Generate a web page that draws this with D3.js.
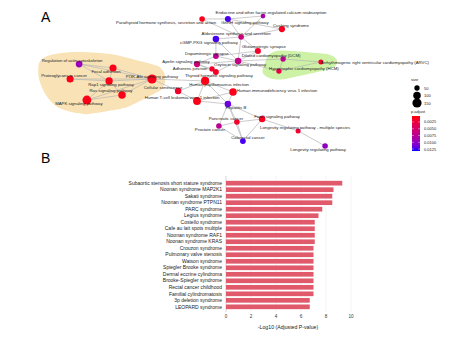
<!DOCTYPE html>
<html>
<head>
<meta charset="utf-8">
<script src="https://cdn.jsdelivr.net/npm/d3@7"></script>
<style>
  body { margin: 0; background: #fff; }
  svg { font-family: "Liberation Sans", Arial, sans-serif; }
</style>
</head>
<body>
<svg id="fig" width="474" height="342"></svg>
<script>
// ---- panel A: enrichment map ----
var nodeNames = [
  "Regulation of actin cytoskeleton", "Focal adhesion", "Proteoglycans in cancer",
  "Rap1 signaling pathway", "Ras signaling pathway", "MAPK signaling pathway",
  "PI3K-Akt signaling pathway", "Cellular senescence", "Human T-cell leukemia virus 1 infection",
  "Human papillomavirus infection", "Thyroid hormone signaling pathway", "Adherens junction",
  "Apelin signaling pathway", "Dopaminergic synapse", "Oxytocin signaling pathway",
  "cGMP-PKG signaling pathway", "Aldosterone synthesis and secretion",
  "Endocrine and other factor-regulated calcium reabsorption",
  "Parathyroid hormone synthesis, secretion and action", "GnRH signaling pathway",
  "Cushing syndrome", "Glutamatergic synapse", "Dilated cardiomyopathy (DCM)",
  "Hypertrophic cardiomyopathy (HCM)", "Arrhythmogenic right ventricular cardiomyopathy (ARVC)",
  "Human immunodeficiency virus 1 infection", "Hepatitis B", "FoxO signaling pathway",
  "Pancreatic cancer", "Prostate cancer", "Colorectal cancer",
  "Longevity regulating pathway - multiple species", "Longevity regulating pathway"
];
// layout coordinates (0-100)
var nodeX = [14.7, 26, 11.7, 24.7, 29, 17.3, 39, 47.7, 54, 56.7, 60.3, 59, 54, 60.3, 67.7,
             60.3, 68.7, 76, 55.7, 64.3, 82.3, 74.3, 82.7, 81.3, 95.3, 66, 64.3, 75.7,
             67.3, 61.3, 69.3, 87.7, 96.7];
var nodeY = [38.6, 41.4, 49.3, 50.7, 60.7, 64.3, 49.3, 57.9, 65, 50.7, 44.3, 42.1, 38.6, 32.9,
             36.4, 20.7, 19.3, 4.3, 6.4, 6.4, 13.6, 29.3, 35, 43.6, 37.1, 58.6, 67.1, 77.9,
             80, 82.9, 93.6, 86.4, 97.1];
var nodeCount = [80, 90, 90, 95, 100, 140, 150, 75, 110, 120, 60, 50, 70, 60, 75, 75, 55, 40,
                 55, 65, 70, 65, 50, 50, 45, 100, 75, 75, 55, 55, 60, 45, 55];
var nodePadj = [0.0095, 0.0008, 0.0008, 0.0008, 0.0008, 0.0008, 0.0008, 0.0015, 0.0008, 0.0008,
                0.0015, 0.0015, 0.0055, 0.0072, 0.0065, 0.0125, 0.0060, 0.0085, 0.0010, 0.0125,
                0.0010, 0.0015, 0.0072, 0.0030, 0.0015, 0.0010, 0.0115, 0.0010, 0.0015, 0.0072,
                0.0125, 0.0020, 0.0100];
var edges = [[0,1],[0,3],[0,6],[1,3],[1,6],[2,3],[2,6],[3,4],[3,5],[3,6],[4,5],[4,6],[5,6],
             [6,9],[6,7],[7,9],[7,8],[8,9],[8,26],[8,25],[9,25],[9,10],[9,26],[10,11],[10,12],
             [10,14],[11,12],[12,14],[12,13],[13,14],[13,15],[13,21],[14,15],[14,16],[14,21],
             [14,22],[14,23],[15,16],[16,19],[16,18],[16,20],[16,17],[17,19],[18,19],[19,20],
             [21,16],[22,23],[22,24],[23,24],[25,26],[26,27],[26,28],[26,29],[26,30],[27,28],
             [27,30],[27,31],[28,29],[28,30],[29,30],[31,32]];
var clusters = [
  {members: [0,1,2,3,4,5,6], withLabels: [0,1,2,3,4,5], fill: "#f9e3b6", padX: 9, padY: 10},
  {members: [22,23,24], withLabels: [], fill: "#cdf2a5", padX: 14, padY: 6}
];
// repel offsets for labels (px)
var labelDx = [-7,-7,-6,2,-11,-8,0,-15,-15,14,3,-22,-11,-9,2,-7,-5,8,-36,17,9,6,-12,25,54,44,8,15,-11,-9,5,7,-7];
var labelDy = [-2,5,-2,5,-3,5,-1,-2,-2,5,5,1,-1,-1,5,5,-2,-2,5,5,-2,-3,-2,-1,2,0,5,-1,-2,5,-2,-2,5];

var sizeTicks = [50, 100, 150];
var padjTicks = [0.0025, 0.0050, 0.0075, 0.0100, 0.0125];

// ---- panel B: bar chart ----
var diseases = ["Subaortic stenosis short stature syndrome", "Noonan syndrome MAP2K1",
  "Sakati syndrome", "Noonan syndrome PTPN11", "PARC syndrome", "Legius syndrome",
  "Costello syndrome", "Cafe au lait spots multiple", "Noonan syndrome RAF1",
  "Noonan syndrome KRAS", "Crouzon syndrome", "Pulmonary valve stenosis", "Watson syndrome",
  "Spiegler Brooke syndrome", "Dermal eccrine cylindroma", "Brooke-Spiegler syndrome",
  "Rectal cancer childhood", "Familial cylindromatosis", "3p deletion syndrome",
  "LEOPARD syndrome"];
var logP = [9.3, 8.6, 8.5, 8.5, 7.7, 7.4, 7.1, 7.1, 7.1, 7.1, 7.0, 7.0, 7.0, 7.0, 7.0, 7.0,
            7.0, 7.0, 6.7, 6.7];
var xTicks = [0, 2, 4, 6, 8, 10];

var svg = d3.select("#fig");

// panel letters
svg.append("text").attr("x", 41).attr("y", 22).attr("font-size", 14).text("A");
svg.append("text").attr("x", 41).attr("y", 163).attr("font-size", 14).text("B");

var x = d3.scaleLinear().domain([0, 100]).range([35, 335]);
var y = d3.scaleLinear().domain([0, 100]).range([10, 150]);
var r = d3.scaleSqrt().domain([0, 150]).range([0, 4.6]);
var color = d3.scaleLinear().domain([0.0003, 0.0132]).range(["red", "blue"])
    .interpolate(d3.interpolateLab);

var nodes = nodeNames.map(function(n, i) {
  return {name: n, x: x(nodeX[i]), y: y(nodeY[i]), r: r(nodeCount[i]), p: nodePadj[i]};
});

var gBlob = svg.append("g");
var gEdge = svg.append("g");
var gNode = svg.append("g");
var gLab = svg.append("g");

gEdge.selectAll("line").data(edges).enter().append("line")
    .attr("x1", function(d) { return nodes[d[0]].x; })
    .attr("y1", function(d) { return nodes[d[0]].y; })
    .attr("x2", function(d) { return nodes[d[1]].x; })
    .attr("y2", function(d) { return nodes[d[1]].y; })
    .attr("stroke", "#b4b4b4")
    .attr("stroke-width", 0.7);

gNode.selectAll("circle").data(nodes).enter().append("circle")
    .attr("cx", function(d) { return d.x; })
    .attr("cy", function(d) { return d.y; })
    .attr("r", function(d) { return d.r; })
    .attr("fill", function(d) { return color(d.p); });

var labels = gLab.selectAll("text").data(nodes).enter().append("text")
    .attr("x", function(d, i) { return d.x + labelDx[i]; })
    .attr("y", function(d, i) { return d.y + labelDy[i]; })
    .attr("text-anchor", "middle")
    .attr("font-size", 4.3)
    .attr("fill", "#222")
    .text(function(d) { return d.name; });

// cluster hulls
clusters.forEach(function(c) {
  var pts = [];
  c.members.forEach(function(i) {
    var n = nodes[i];
    for (var a = 0; a < 24; a++) {
      var t = a / 24 * 2 * Math.PI;
      pts.push([n.x + (n.r + c.padX) * Math.cos(t), n.y + (n.r + c.padY) * Math.sin(t)]);
    }
  });
  c.withLabels.forEach(function(i) {
    var b = labels.nodes()[i].getBBox();
    pts.push([b.x - 3, b.y - 3], [b.x + b.width + 3, b.y - 3],
             [b.x - 3, b.y + b.height + 3], [b.x + b.width + 3, b.y + b.height + 3]);
  });
  var hull = d3.polygonHull(pts);
  gBlob.append("path")
      .attr("d", d3.line().curve(d3.curveBasisClosed)(hull))
      .attr("fill", c.fill);
});

// legend
var lg = svg.append("g").attr("font-size", 4).attr("fill", "#222");
lg.append("text").attr("x", 411).attr("y", 81).text("size");
sizeTicks.forEach(function(s, i) {
  lg.append("circle").attr("cx", 417).attr("cy", 88 + i * 7.5).attr("r", r(s)).attr("fill", "#000");
  lg.append("text").attr("x", 424).attr("y", 89.5 + i * 7.5).text(s);
});
lg.append("text").attr("x", 411).attr("y", 113).text("p.adjust");
var cb = d3.scaleLinear().domain([0.0003, 0.0132]).range([116, 151]);
var grad = svg.append("defs").append("linearGradient").attr("id", "pgrad")
    .attr("x1", 0).attr("y1", 0).attr("x2", 0).attr("y2", 1);
d3.range(0, 1.01, 0.1).forEach(function(t) {
  grad.append("stop").attr("offset", t)
      .attr("stop-color", color(cb.invert(116 + t * 35)));
});
lg.append("rect").attr("x", 412).attr("y", 116).attr("width", 8).attr("height", 35)
    .attr("fill", "url(#pgrad)");
padjTicks.forEach(function(p) {
  lg.append("line").attr("x1", 412).attr("x2", 414).attr("y1", cb(p)).attr("y2", cb(p))
      .attr("stroke", "#fff").attr("stroke-width", 0.4);
  lg.append("line").attr("x1", 418).attr("x2", 420).attr("y1", cb(p)).attr("y2", cb(p))
      .attr("stroke", "#fff").attr("stroke-width", 0.4);
  lg.append("text").attr("x", 424).attr("y", cb(p) + 1.4).text(d3.format(".4f")(p));
});

// ---- panel B ----
var bx = d3.scaleLinear().domain([0, 10]).range([226, 351]);
var by = d3.scaleBand().domain(diseases).range([179, 311]).padding(0.28);
var gB = svg.append("g");

gB.selectAll("line.grid").data(xTicks).enter().append("line")
    .attr("class", "grid")
    .attr("x1", function(d) { return bx(d); })
    .attr("x2", function(d) { return bx(d); })
    .attr("y1", 176).attr("y2", 312)
    .attr("stroke", function(d) { return d === 0 ? "#bbb" : "#ececec"; })
    .attr("stroke-width", 0.6);

gB.selectAll("rect").data(diseases).enter().append("rect")
    .attr("x", bx(0))
    .attr("y", function(d) { return by(d); })
    .attr("width", function(d, i) { return bx(logP[i]) - bx(0); })
    .attr("height", by.bandwidth())
    .attr("fill", "#e05a6c");

gB.selectAll("text.cat").data(diseases).enter().append("text")
    .attr("class", "cat")
    .attr("x", bx(0) - 4)
    .attr("y", function(d) { return by(d) + by.bandwidth() / 2 + 1.7; })
    .attr("text-anchor", "end")
    .attr("font-size", 5)
    .attr("fill", "#222")
    .text(function(d) { return d; });

gB.selectAll("text.tick").data(xTicks).enter().append("text")
    .attr("class", "tick")
    .attr("x", function(d) { return bx(d); })
    .attr("y", 318)
    .attr("text-anchor", "middle")
    .attr("font-size", 4.6)
    .attr("fill", "#333")
    .text(function(d) { return d; });

gB.append("text")
    .attr("x", 288).attr("y", 328.5)
    .attr("text-anchor", "middle")
    .attr("font-size", 5.2)
    .attr("fill", "#222")
    .text("-Log10 (Adjusted P-value)");
</script>
</body>
</html>
